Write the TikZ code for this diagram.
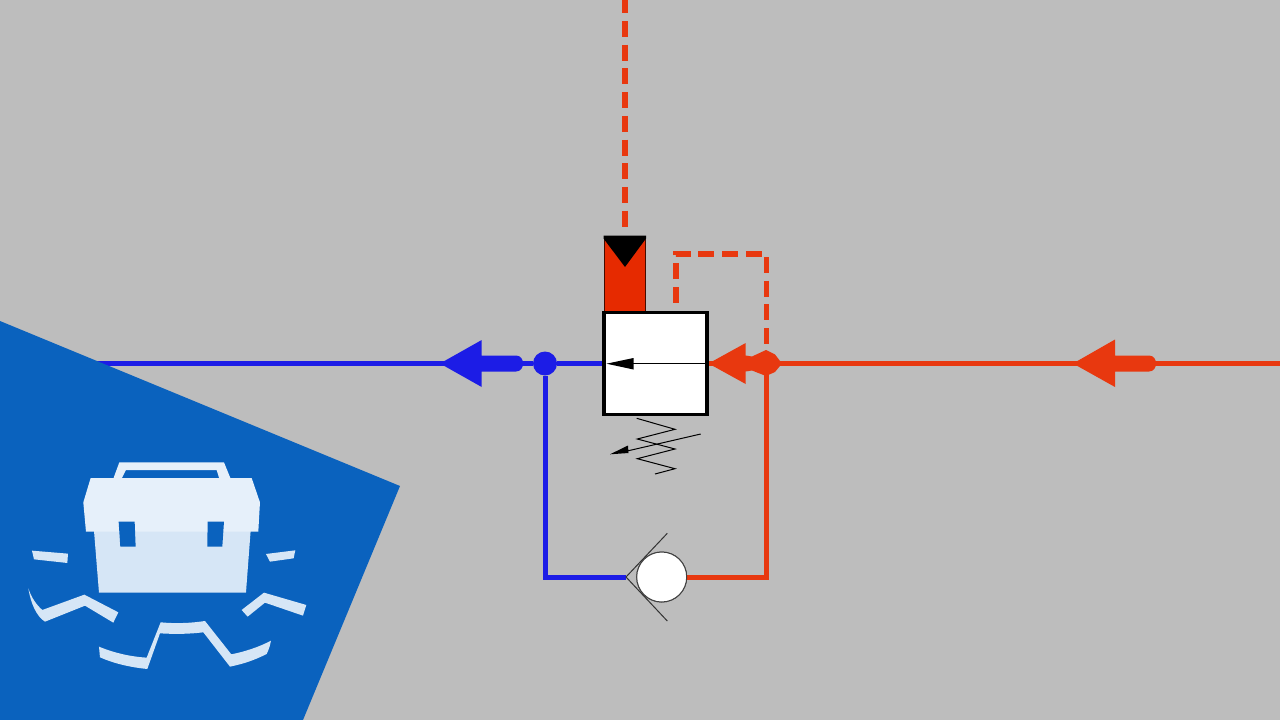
\documentclass[tikz,border=0pt]{standalone}
\usetikzlibrary{calc}
\definecolor{bg}{HTML}{BDBDBD}
\definecolor{redline}{HTML}{E8380F}
\definecolor{redfill}{HTML}{E62A00}
\definecolor{blueline}{HTML}{1C1CE6}
\definecolor{corner}{HTML}{0A62BE}
\definecolor{logolight}{HTML}{E6F0FA}
\definecolor{logomid}{HTML}{D6E6F6}
\tikzset{
  redpipe/.style={draw=redline,line width=5pt},
  bluepipe/.style={draw=blueline,line width=5pt},
  pilot/.style={draw=redline,line width=5.5pt,dash pattern=on 16pt off 7.7pt},
  thinline/.style={draw=black,line width=1pt},
  valvebox/.style={draw=black,fill=white,line width=3.5pt,minimum width=103pt,minimum height=102pt,inner sep=0pt},
  ball/.style={circle,draw=black!75,fill=white,line width=1pt,minimum size=50pt,inner sep=0pt},
  junction/.style={circle,fill=#1,minimum size=24pt,inner sep=0pt},
  point/.style={coordinate}
}
\begin{document}
\begin{tikzpicture}[x=1pt,y=-1pt]
\useasboundingbox (0,0) rectangle (1280,720);
\fill[bg] (0,0) rectangle (1280,720);

% pipes
\node[valvebox] (valve) at (655.5,363.5) {};
\node[junction=blueline] (bj) at (545,363.5) {};
\node[ball] (ballnode) at (661.7,577) {};
\node[point] (rj) at (766.5,363.5) {};
\node[point] (bl) at (90,363.5) {};
\node[point] (rr) at (1280,363.5) {};
\node[point] (bc) at (545,577) {};
\node[point] (rc) at (766.5,577) {};
\node[point] (apex) at (626,577) {};
\node[point] (vt) at (667.3,533.3) {};
\node[point] (vb) at (667.3,621) {};
\node[point] (ptop) at (625,0) {};
\node[point] (pbot) at (625,228) {};
\node[point] (la) at (676,302.7) {};
\node[point] (lb) at (676,254) {};
\node[point] (lc) at (766.5,254) {};
\node[point] (ld) at (766.5,345) {};

\draw[bluepipe] (bl) -- (bj);
\draw[bluepipe] (bj) -- (valve.west);
\draw[bluepipe,line join=miter] (bj) -- (bc) -- (apex);
\draw[redpipe,line join=miter] (rj) -- (rc) -- (ballnode.east);
\draw[redpipe] (valve.east) -- (rr);
\draw[pilot,dash phase=2.7pt] (ptop) -- (pbot);
\draw[pilot,line join=miter] (la) -- (lb) -- (lc) -- (ld);

% flow arrows
\fill[blueline] (440,363.5) -- (481.7,340) -- (481.7,355.5) -- (516,355.5) to[out=0,in=0,looseness=1.5] (516,371.5) -- (481.7,371.5) -- (481.7,387) -- cycle;
\fill[redline] (1073,363.5) -- (1115,339.5) -- (1115,355.5) -- (1149,355.5) to[out=0,in=0,looseness=1.5] (1149,371.5) -- (1115,371.5) -- (1115,387) -- cycle;
\fill[redline] (708.5,363.5) -- (745.7,343) -- (745.7,355.5) -- (752,356.5) -- (766,350) -- (775,354.5) -- (782,363.5) -- (775,372) -- (766,376) -- (752,370.5) -- (745.7,371.5) -- (745.7,384) -- cycle;

% pilot head
\fill[redfill] (604,236) rectangle (645.7,311);
\draw[black!70!redfill,line width=1.5pt] (604.5,311) -- (604.5,236.5) (645.5,236.5) -- (645.5,311);
\fill[black] (603.5,235.5) -- (646,235.5) -- (646,238.5) -- (625,267) -- (603.5,238.5) -- cycle;
\node[valvebox] at (valve.center) {};
\draw[black,line width=1pt] (valve.east) -- (625,363.5);
\fill[black] (606.5,363.7) -- (633.5,358) -- (633.5,369.5) -- cycle;

% spring
\draw[thinline] (636.7,418.3) -- (675,429.3) -- (637.3,439) -- (675,449) -- (637.3,458.7) -- (675,468.7) -- (655,474);
\draw[thinline] (700.7,434) -- (625,451.5);
\fill[black] (610,454.3) -- (628,445.5) -- (628.5,453) -- cycle;

% check valve
\draw[line width=1pt,draw=black!80] (vt) -- (apex) -- (vb);
\node[ball] at (ballnode.center) {};

% corner panel
\fill[corner] (0,321) -- (400,486) -- (303,720) -- (0,720) -- cycle;
\begin{scope}[shift={(0,440)},x=0.3333pt,y=-0.3333pt]
  \fill[logolight,even odd rule] (340,116) -- (358,67) -- (672,67) -- (692,116) -- (658,116) -- (650,90) -- (378,90) -- (365,116) -- cycle;
  \fill[logomid] (282,272) -- (752,272) -- (738,458) -- (297,458) -- cycle;
  \fill[logolight] (272,114) -- (755,114) -- (780,187) -- (775,275) -- (258,275) -- (250,187) -- cycle;
  \fill[corner] (356,245) -- (404,245) -- (407,320) -- (361,320) -- cycle;
  \fill[corner] (623,245) -- (672,245) -- (667,320) -- (622,320) -- cycle;
  \fill[logomid] (96,332) -- (204,341) -- (202,369) -- (102,358) -- cycle;
  \fill[logomid] (798,342) -- (886,331) -- (881,355) -- (810,365) -- cycle;
  \fill[logomid] (85,445) .. controls (92,490) and (110,530) .. (135,545) -- (255,497) -- (340,548) -- (355,517) -- (253,464) -- (127,510) .. controls (110,495) and (95,475) .. (85,445) -- cycle;
  \fill[logomid] (725,510) -- (792,458) -- (919,495) -- (909,527) -- (795,488) -- (743,530) -- cycle;
  \fill[logomid] (297,620) .. controls (340,638) and (390,650) .. (440,653) -- (482,547) .. controls (525,551) and (570,550) .. (615,543) -- (694,643) .. controls (735,635) and (780,620) .. (813,602) .. controls (810,620) and (805,632) .. (800,642) .. controls (765,660) and (730,672) .. (690,680) -- (610,577) .. controls (570,582) and (525,583) .. (480,580) -- (442,687) .. controls (390,682) and (340,670) .. (300,652) -- cycle;
\end{scope}
\end{tikzpicture}
\end{document}
